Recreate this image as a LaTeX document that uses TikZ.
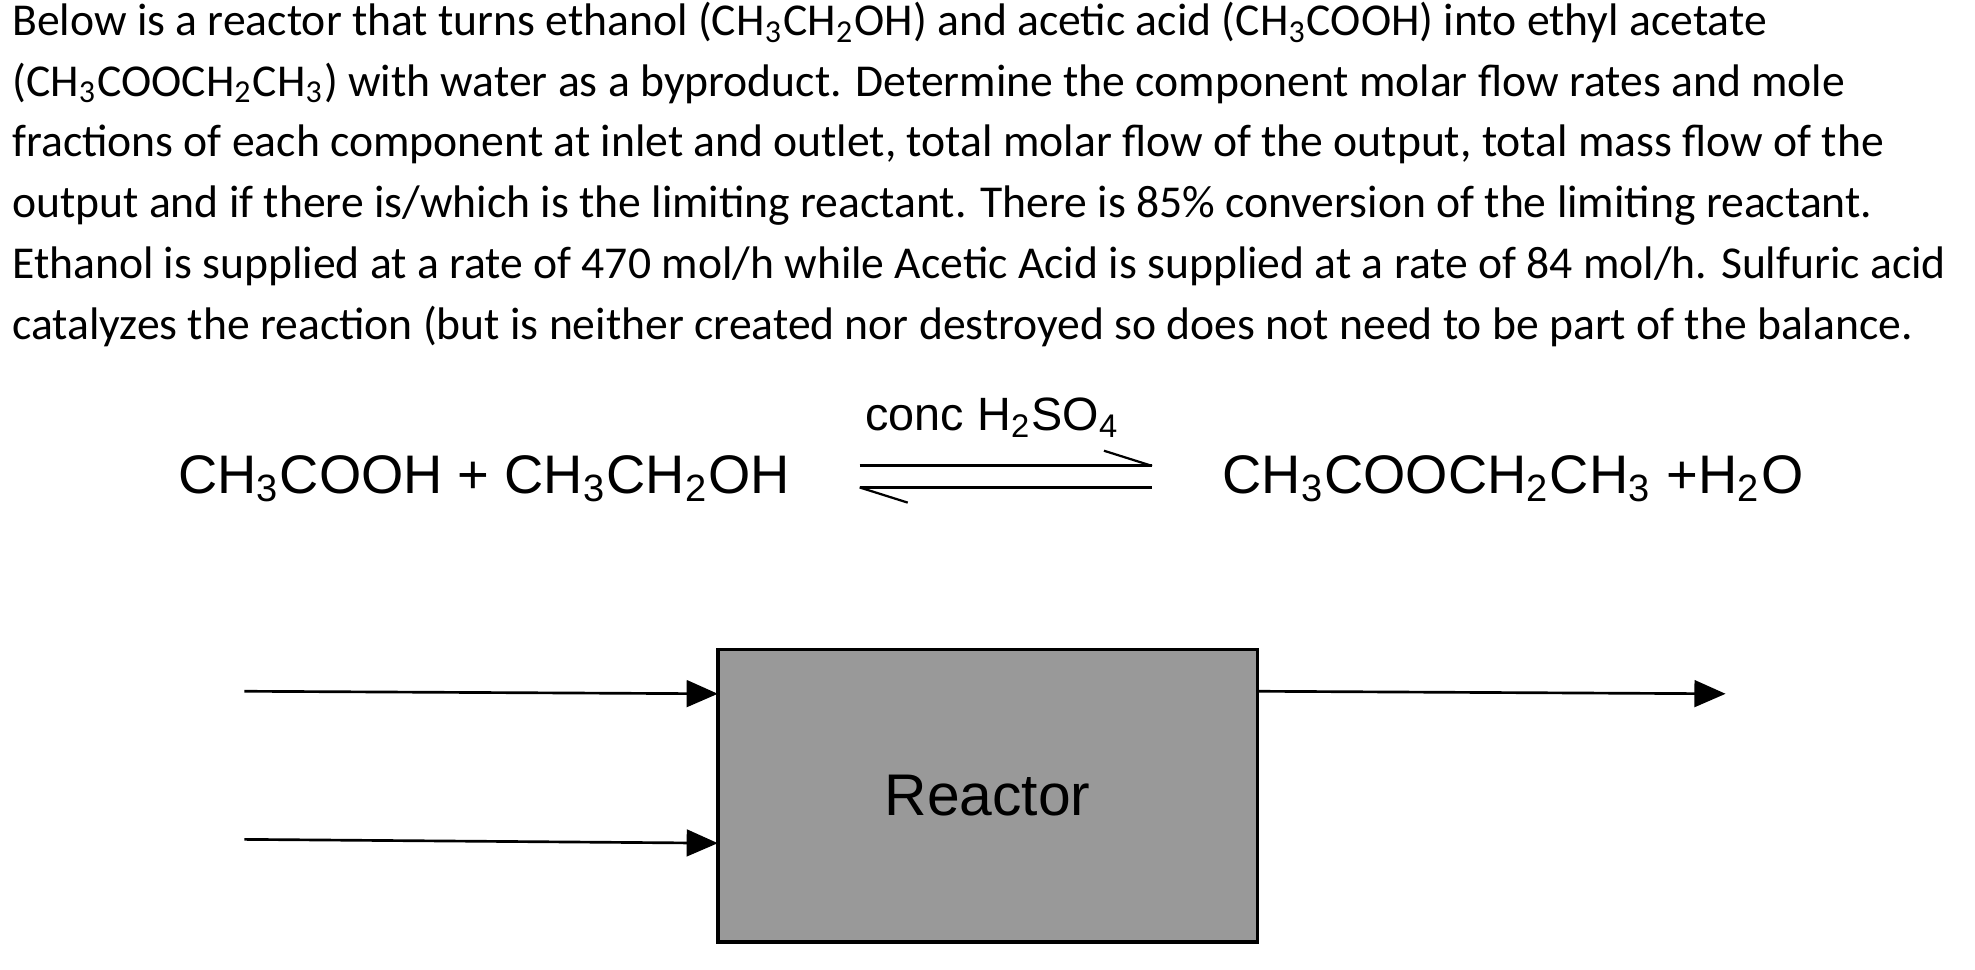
\documentclass[tikz,border=0pt]{standalone}
\usepackage{fontspec}
\usetikzlibrary{arrows.meta}
\setmainfont{Carlito}
\newfontfamily\arial{Liberation Sans}
\begin{document}
\begin{tikzpicture}[x=0.01cm,y=-0.01cm,
  para/.style={anchor=base west,inner sep=0,font=\fontsize{10.25}{13}\selectfont},
  chem/.style={inner sep=0,font=\arial\fontsize{12.2}{14}\selectfont},
  flow/.style={line width=0.6pt,-{Triangle[length=7pt,width=6pt]}}]
\useasboundingbox (0,0) rectangle (1560,766);
\node[para] (l1) at (9,28) {Below is a reactor that turns ethanol (CH\textsubscript{3}CH\textsubscript{2}OH) and acetic acid (CH\textsubscript{3}COOH) into ethyl acetate};
\node[para] (l2) at (9,76) {(CH\textsubscript{3}COOCH\textsubscript{2}CH\textsubscript{3}) with water as a byproduct. Determine the component molar flow rates and mole};
\node[para] (l3) at (9,124) {fractions of each component at inlet and outlet, total molar flow of the output, total mass flow of the};
\node[para] (l4) at (9,172) {output and if there is/which is the limiting reactant. There is 85\% conversion of the limiting reactant.};
\node[para] (l5) at (9,220) {Ethanol is supplied at a rate of 470 mol/h while Acetic Acid is supplied at a rate of 84 mol/h. Sulfuric acid};
\node[para] (l6) at (9,268) {catalyzes the reaction (but is neither created nor destroyed so does not need to be part of the balance.};
\node[chem,anchor=base west] (re) at (140,390) {CH\textsubscript{3}COOH + CH\textsubscript{3}CH\textsubscript{2}OH};
\node[chem,anchor=base west] (pr) at (965,390) {CH\textsubscript{3}COOCH\textsubscript{2}CH\textsubscript{3} +H\textsubscript{2}O};
\node[chem,anchor=base west,font=\arial\fontsize{10.5}{12}\selectfont] (cat) at (683,340) {conc H\textsubscript{2}SO\textsubscript{4}};
\coordinate (a1) at (679,368); \coordinate (a2) at (910,368);
\coordinate (b1) at (679,385); \coordinate (b2) at (910,385);
\draw[line width=0.7pt] (a1) -- (a2) (b1) -- (b2);
\draw[line width=0.5pt] (a2) -- (872,356);
\draw[line width=0.5pt] (b1) -- (717,397);
\node[draw,line width=0.8pt,fill={rgb,255:red,153;green,153;blue,153},inner sep=0,outer sep=0,anchor=north west,
  minimum width=4.26cm,minimum height=2.31cm] (r) at (567,513) {};
\node[chem,font=\arial\fontsize{13.2}{16}\selectfont] (rl) at (r.center) {Reactor};
\coordinate (i1) at (193,546); \coordinate (i2) at (193,663); \coordinate (o) at (1363,548);
\draw[flow] (i1) -- (r.west |- 0,548);
\draw[flow] (i2) -- (r.west |- 0,666);
\draw[flow] (r.east |- 0,546) -- (o);
\end{tikzpicture}
\end{document}
